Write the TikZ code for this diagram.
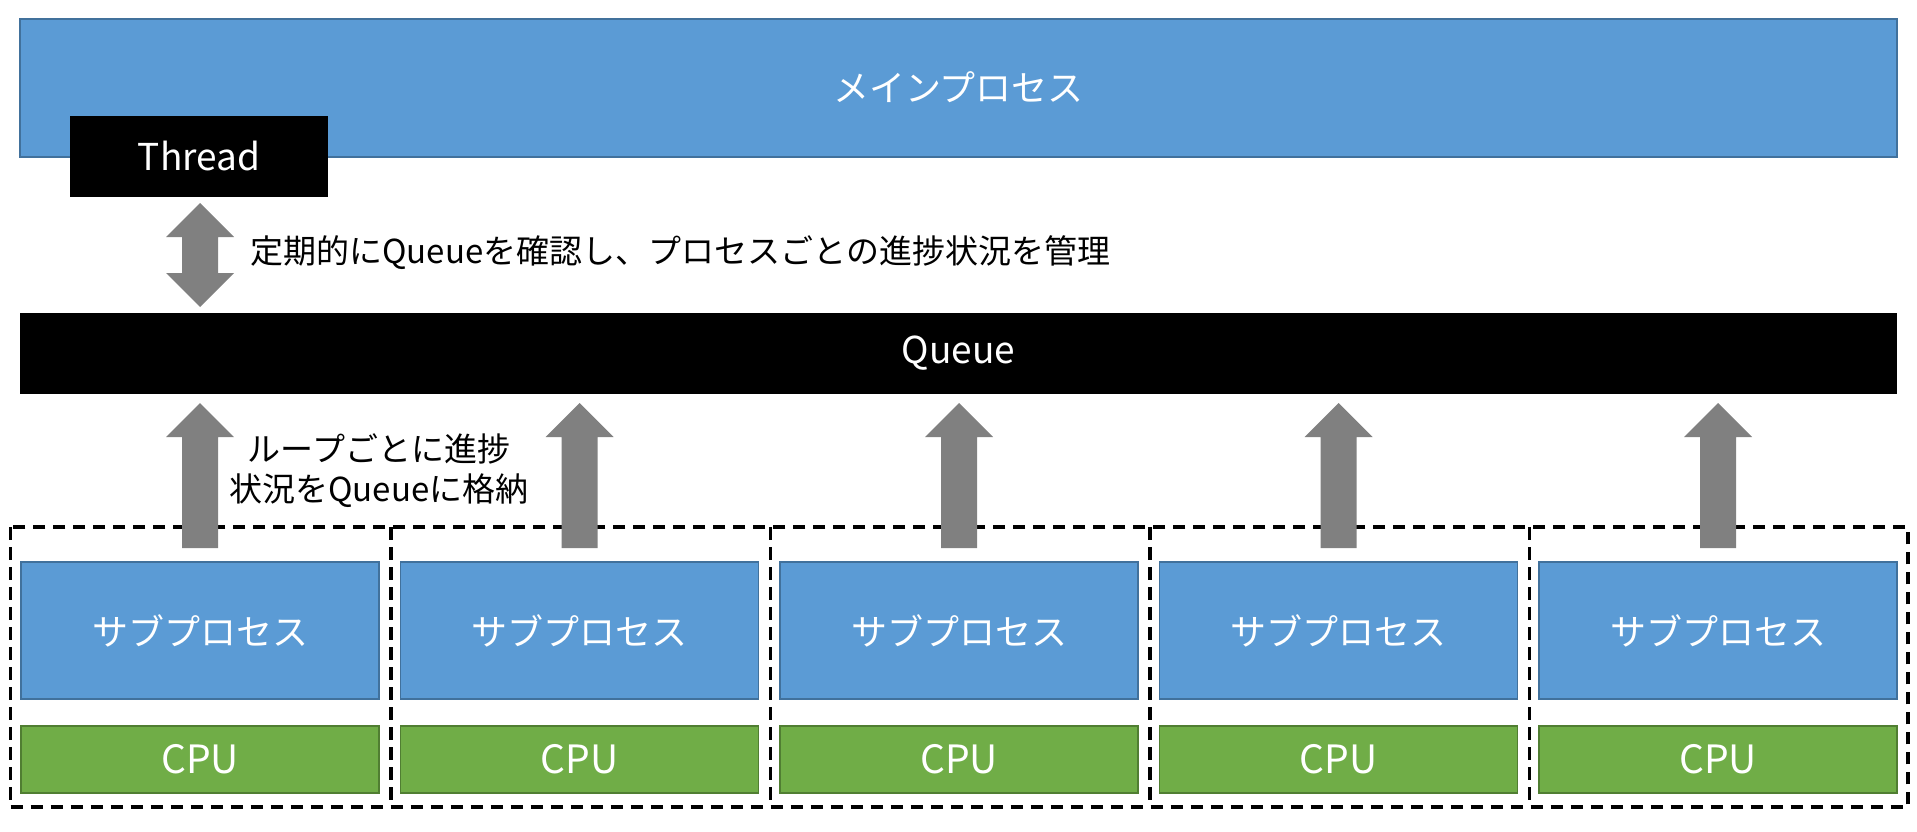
\documentclass[tikz,border=0pt]{standalone}
\usepackage{fontspec}
\setmainfont{Noto Sans CJK JP}
\definecolor{boxblue}{HTML}{5B9BD5}
\definecolor{boxblueline}{HTML}{41719C}
\definecolor{cpugreen}{HTML}{70AD47}
\definecolor{cpugreenline}{HTML}{507E32}
\definecolor{arrowgray}{HTML}{808080}
\tikzset{
  procbox/.style={draw=boxblueline, fill=boxblue, line width=1.8pt, text=white,
    inner sep=0pt, outer sep=0pt, font=\fontsize{36}{40}\selectfont},
  cpubox/.style={draw=cpugreenline, fill=cpugreen, line width=1.8pt, text=white,
    inner sep=0pt, outer sep=0pt, minimum width=358pt, minimum height=67pt,
    font=\fontsize{39}{44}\selectfont},
  blackbox/.style={fill=black, text=white, inner sep=0pt, outer sep=0pt,
    font=\fontsize{37}{42}\selectfont},
  notetext/.style={text=black, inner sep=0pt, font=\fontsize{33}{40}\selectfont},
  blockarrow/.style={fill=arrowgray},
  groupline/.style={draw=black, line width=3.2pt, dash pattern=on 12.5pt off 7.5pt}
}
\begin{document}
\begin{tikzpicture}[x=1pt, y=-1pt]
\useasboundingbox (0,0) rectangle (1917,832);

% main process and thread
\node[procbox, minimum width=1877pt, minimum height=137.4pt] (main) at (958.5,88) {\raisebox{2pt}{メインプロセス}};
\node[blackbox, minimum width=258pt, minimum height=81pt] (thread) at (199,156.5) {Thread};

% queue
\node[blackbox, minimum width=1877pt, minimum height=81pt] (queue) at (958.5,353.5) {Queue};

% double arrow between thread and queue
\coordinate (da) at (200,203);
\fill[blockarrow] (da) -- ++(34,34) -- ++(-16,0) -- ++(0,36) -- ++(16,0) -- ++(-34,34)
  -- ++(-34,-34) -- ++(16,0) -- ++(0,-36) -- ++(-16,0) -- cycle;
\node[notetext, anchor=west] (note1) at (250,253) {定期的にQueueを確認し、プロセスごとの進捗状況を管理};

% dashed grouping
\draw[groupline] (10.7,527) rectangle (1908,807);
\foreach \i in {0,...,3} {
  \draw[groupline] (391+379.5*\i,527) -- (391+379.5*\i,807);
}

% subprocesses, cpus and up arrows
\foreach \i in {0,...,4} {
  \node[procbox, minimum width=358pt, minimum height=137pt] (sub\i) at (200+379.5*\i,630.5) {サブプロセス};
  \node[cpubox] (cpu\i) at (200+379.5*\i,759.5) {CPU};
  \coordinate (ua\i) at (200+379.5*\i,403);
  \fill[blockarrow] (ua\i) -- ++(34,34) -- ++(-16,0) -- ++(0,111) -- ++(-36,0) -- ++(0,-111)
    -- ++(-16,0) -- cycle;
}

\node[notetext, align=center] (note2) at (379,471) {ループごとに進捗\\状況をQueueに格納};
\end{tikzpicture}
\end{document}
